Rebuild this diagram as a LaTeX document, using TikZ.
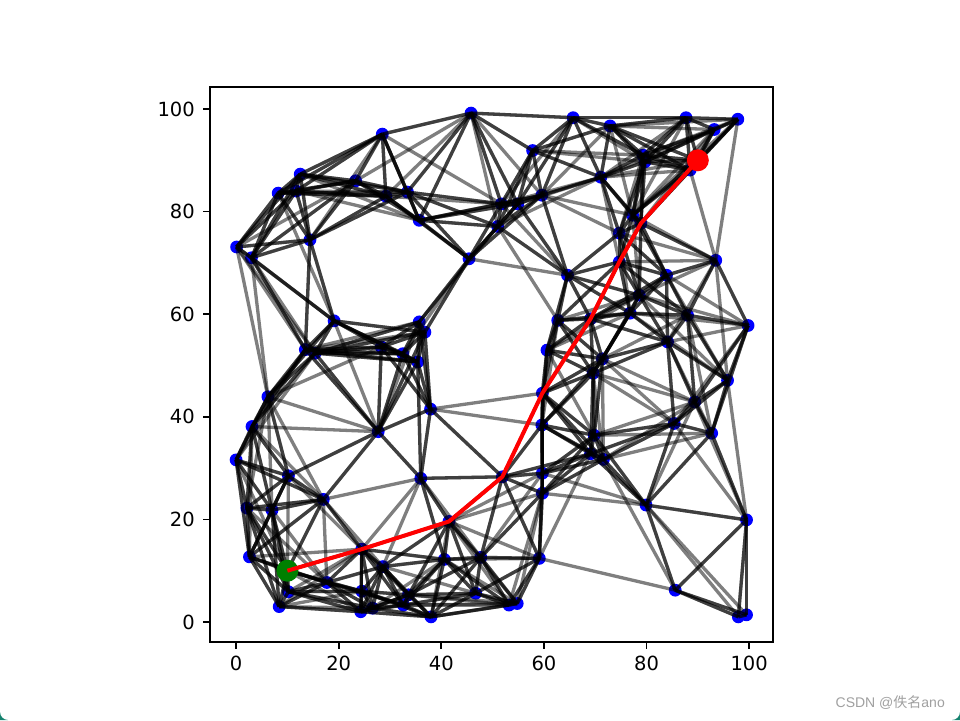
\documentclass[tikz,border=0pt]{standalone}
\usepackage{fontspec}
\setmainfont{DejaVu Sans}
\newfontfamily\cjkfont{Noto Sans CJK SC}
\newfontfamily\wmfont{Liberation Sans}
\definecolor{mplblue}{RGB}{0,0,255}
\definecolor{mplgreen}{RGB}{0,128,0}
\definecolor{cornerteal}{RGB}{20,130,110}
\definecolor{wmgray}{RGB}{160,160,160}
\newif\ifblocked
\newcount\kpos
\def\K{10}
\def\maxsq{90000}
\def\nx#1{\csname nx#1\endcsname}
\def\ny#1{\csname ny#1\endcsname}
\def\slot#1{\csname sl#1\endcsname}
% circular obstacles cx/cy/r (tenths of data units)
\def\obstacles{290/680/100,490/570/100}
\def\segcircle#1#2#3#4#5{%
  \edef\pvx{\the\numexpr\nx{#2}-\nx{#1}\relax}%
  \edef\pvy{\the\numexpr\ny{#2}-\ny{#1}\relax}%
  \edef\pwx{\the\numexpr#3-\nx{#1}\relax}%
  \edef\pwy{\the\numexpr#4-\ny{#1}\relax}%
  \edef\pLL{\the\numexpr\pvx*\pvx+\pvy*\pvy\relax}%
  \edef\pdt{\the\numexpr\pwx*\pvx+\pwy*\pvy\relax}%
  \ifnum\pdt<1
    \edef\pdd{\the\numexpr\pwx*\pwx+\pwy*\pwy\relax}%
  \else\ifnum\pdt<\pLL\relax
    \edef\pcc{\the\numexpr\pwx*\pvy-\pwy*\pvx\relax}%
    \edef\pdd{\the\numexpr\pcc*\pcc/\pLL\relax}%
  \else
    \edef\pdd{\the\numexpr(#3-\nx{#2})*(#3-\nx{#2})+(#4-\ny{#2})*(#4-\ny{#2})\relax}%
  \fi\fi
  \ifnum\pdd<\numexpr#5*#5\relax \global\blockedtrue\fi}
\def\testblocked#1#2{%
  \global\blockedfalse
  \foreach \oa/\ob/\oc in \obstacles {\segcircle{#1}{#2}{\oa}{\ob}{\oc}}}
\def\insertval#1{%
  \ifnum#1<\slot{\K}\relax
    \global\kpos=\K\relax
    \insertstep{#1}%
  \fi}
\def\insertstep#1{%
  \ifnum\kpos>1
    \ifnum\slot{\the\numexpr\kpos-1\relax}>#1\relax
      \expandafter\xdef\csname sl\the\kpos\endcsname{\slot{\the\numexpr\kpos-1\relax}}%
      \global\advance\kpos by -1
      \def\insnext{\insertstep{#1}}%
    \else
      \expandafter\xdef\csname sl\the\kpos\endcsname{#1}%
      \let\insnext\relax
    \fi
  \else
    \expandafter\xdef\csname sl\the\kpos\endcsname{#1}%
    \let\insnext\relax
  \fi
  \insnext}
% nodes in tenths of data units
\def\nodelist{458/992,285/951,125/873,233/860,82/836,117/840,292/830,334/838,357/783,1/731,%
30/710,144/745,454/708,191/587,357/585,368/565,135/531,154/524,283/536,325/523,354/507,%
657/983,729/967,877/983,978/980,932/960,578/919,793/910,797/897,885/881,711/867,%
596/832,517/815,549/815,510/771,773/793,789/777,747/758,935/705,646/676,747/702,%
839/676,786/637,768/602,880/598,998/578,627/588,691/591,606/530,841/546,714/513,%
62/439,31/381,0/316,277/371,379/415,102/285,170/239,21/222,70/218,360/280,%
415/196,26/127,100/100,102/59,84/30,177/77,245/142,245/60,243/20,266/27,%
286/108,336/53,326/33,380/10,406/122,477/126,467/56,%
597/446,696/485,958/471,894/429,596/384,698/364,854/387,927/368,691/328,716/317,%
519/283,597/290,597/251,799/228,995/199,591/124,856/62,532/33,548/36,979/10,%
995/14,900/900}
\foreach \x/\y [count=\i] in \nodelist {%
  \expandafter\xdef\csname nx\i\endcsname{\x}%
  \expandafter\xdef\csname ny\i\endcsname{\y}%
  \xdef\N{\i}}
\tikzset{
  edge/.style={black,opacity=0.5,line width=3.3pt},
  sample/.style={fill=mplblue},
  route/.style={red,line width=4pt,line join=round},
  ticklabel/.style={font=\fontsize{19.5}{22}\selectfont,inner sep=0pt},
  axisline/.style={black,line width=1.7pt}
}
\begin{document}
\begin{tikzpicture}[x=1pt,y=1pt]
\useasboundingbox (0,0) rectangle (960,720);
\fill[white] (0,0) rectangle (960,720);
\fill[cornerteal] (0,0) -- (0,8) arc[start angle=180,end angle=270,radius=8] -- cycle;
\fill[cornerteal] (960,0) -- (952,0) arc[start angle=270,end angle=360,radius=8] -- cycle;
\begin{scope}[shift={(236.1pt,98pt)},x=0.513pt,y=0.513pt]
  \foreach \i in {1,...,\N}{\coordinate (n\i) at (\nx{\i},\ny{\i});}
  \foreach \i in {1,...,\N}{\fill[sample] (n\i) circle[radius=6.4pt];}
  \foreach \i in {1,...,\N}{%
    \foreach \s in {1,...,\K}{\expandafter\xdef\csname sl\s\endcsname{99999999}}%
    \foreach \j in {1,...,\N}{%
      \expandafter\xdef\csname dv\j\endcsname{-1}%
      \ifnum\i=\j\relax\else
        \edef\dsq{\the\numexpr(\nx{\j}-\nx{\i})*(\nx{\j}-\nx{\i})+(\ny{\j}-\ny{\i})*(\ny{\j}-\ny{\i})\relax}%
        \ifnum\dsq<\maxsq\relax
          \testblocked{\i}{\j}%
          \ifblocked\else
            \expandafter\xdef\csname dv\j\endcsname{\dsq}%
            \insertval{\dsq}%
          \fi
        \fi
      \fi}%
    \edef\thr{\slot{\K}}%
    \foreach \j in {1,...,\N}{%
      \ifnum\csname dv\j\endcsname>0
        \ifnum\csname dv\j\endcsname>\thr\relax\else
          \draw[edge] (n\i) -- (n\j);
        \fi
      \fi}%
  }
  \fill[mplgreen] (n64) circle[radius=11pt];
  \fill[red] (n100) circle[radius=11pt];
  \draw[route] (n64) -- (n68) -- (n62) -- (n89) -- (n79) -- (n48) -- (n41) -- (n37) -- (n100);
\end{scope}
% axes
\draw[axisline] (210,78.3) rectangle (773,633);
\foreach \v in {0,20,40,60,80,100}{
  \draw[axisline] ({236.1+5.13*\v},78.3) -- ++(0,-7.3);
  \node[ticklabel,anchor=north] at ({236.1+5.13*\v},64) {\v};
  \draw[axisline] (210,{98+5.13*\v}) -- ++(-7.3,0);
  \node[ticklabel,anchor=east] at (195,{98+5.13*\v}) {\v};
}
\node[text=wmgray,font=\wmfont\fontsize{14}{16}\selectfont,anchor=east,inner sep=0pt] at (945,17) {CSDN @{\cjkfont 佚名}ano};
\end{tikzpicture}
\end{document}
